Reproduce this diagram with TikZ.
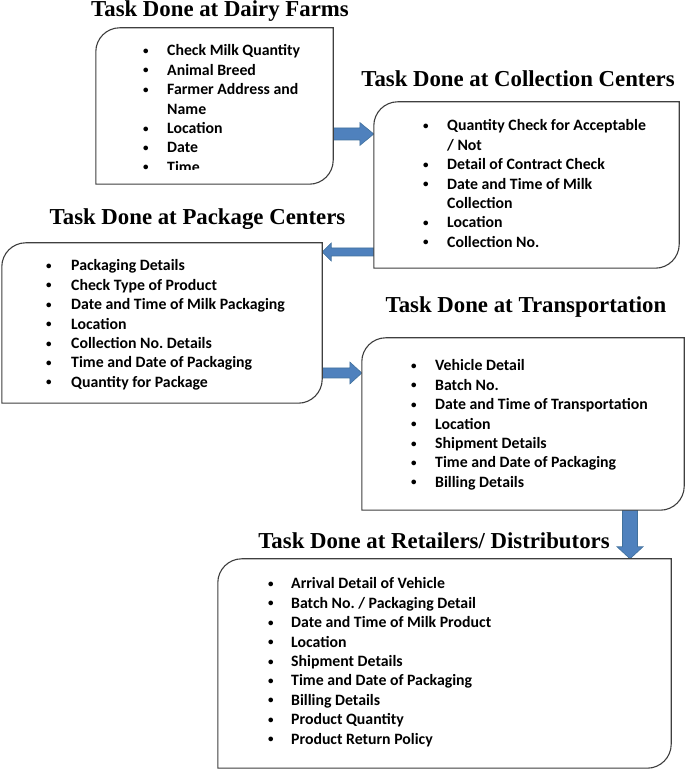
\documentclass[tikz,border=0pt]{standalone}
\usepackage{fontspec}
\setmainfont{Carlito}
\newfontfamily\titlefont{Liberation Serif}
\usetikzlibrary{calc}
\frenchspacing
\definecolor{arrowblue}{HTML}{4F81BD}
\definecolor{arrowedge}{HTML}{41719C}
\definecolor{boxedge}{HTML}{3F3F3F}
\newcommand\tbshape[1]{%
  \draw[boxline] (#1.south west) -- ([yshift=-24pt]#1.north west)
    arc[start angle=180,end angle=90,radius=24pt] -- (#1.north east)
    -- ([yshift=24pt]#1.south east)
    arc[start angle=0,end angle=-90,radius=24pt] -- cycle;}
\newcommand\bu{\hspace*{1pt}\raisebox{1.5pt}{\fontsize{11}{11}\selectfont\textbullet}}
\begin{document}
\frenchspacing
\begin{tikzpicture}[x=1pt,y=1pt,
  boxline/.style={draw=boxedge,line width=1.1pt,fill=white},
  taskbox/.style={draw=none,inner sep=0pt},
  titletext/.style={font=\titlefont\bfseries\fontsize{22.8}{26}\selectfont,inner sep=0pt,anchor=base},
  listtext/.style={font=\bfseries\fontsize{15.8}{19.4}\selectfont\frenchspacing,inner sep=0pt,anchor=base west},
  blockarrow/.style={fill=arrowblue,draw=arrowedge,line width=0.6pt}]
\useasboundingbox (0,0) rectangle (685,770);

% invisible box nodes
\node[taskbox,minimum width=237pt,minimum height=156pt] (dairy) at (214.5,664) {};
\node[taskbox,minimum width=305pt,minimum height=166pt] (coll) at (526.5,585) {};
\node[taskbox,minimum width=320pt,minimum height=160pt] (pack) at (162,447) {};
\node[taskbox,minimum width=322pt,minimum height=172pt] (trans) at (523,346) {};
\node[taskbox,minimum width=453pt,minimum height=209pt] (ret) at (444.5,106.5) {};

\coordinate (ya) at (0,636);
\coordinate (yb) at (0,518);
\coordinate (yc) at (0,397);
\coordinate (xd) at (630,0);

% block arrows
\draw[blockarrow] let \p1=(dairy.east |- ya), \p2=(coll.west |- ya) in
  (\x1,\y1+6) -- (\x2-14,\y1+6) -- (\x2-14,\y1+11.5) -- (\x2,\y1)
  -- (\x2-14,\y1-11.5) -- (\x2-14,\y1-6) -- (\x1,\y1-6) -- cycle;
\draw[blockarrow] let \p1=(coll.west |- yb), \p2=(pack.east |- yb) in
  (\x1,\y1+4) -- (\x2+9,\y1+4) -- (\x2+9,\y1+9) -- (\x2,\y1)
  -- (\x2+9,\y1-9) -- (\x2+9,\y1-4) -- (\x1,\y1-4) -- cycle;
\draw[blockarrow] let \p1=(pack.east |- yc), \p2=(trans.west |- yc) in
  (\x1,\y1+5) -- (\x2-12,\y1+5) -- (\x2-12,\y1+11) -- (\x2,\y1)
  -- (\x2-12,\y1-11) -- (\x2-12,\y1-5) -- (\x1,\y1-5) -- cycle;
\draw[blockarrow] let \p1=(trans.south -| xd), \p2=(ret.north -| xd) in
  (\x1-7.5,\y1) -- (\x1-7.5,\y2+12) -- (\x1-13,\y2+12) -- (\x1,\y2)
  -- (\x1+13,\y2+12) -- (\x1+7.5,\y2+12) -- (\x1+7.5,\y1) -- cycle;

% box outlines
\tbshape{dairy}
\tbshape{coll}
\tbshape{pack}
\tbshape{trans}
\tbshape{ret}

% titles
\node[titletext] (t1) at (220,753.5) {Task Done at Dairy Farms};
\node[titletext] (t2) at (518,683) {Task Done at Collection Centers};
\node[titletext] (t3) at (197.5,545) {Task Done at Package Centers};
\node[titletext] (t4) at (526,457) {Task Done at Transportation};
\node[titletext] (t5) at (434,221) {Task Done at Retailers/ Distributors};

% lists
\begin{scope}
\clip (0,600) rectangle (685,770);
\node[listtext] (l1) at (142,714) {\begin{tabular}[t]{@{}p{25pt}@{}l@{}}
\bu & Check Milk Quantity\\
\bu & Animal Breed\\
\bu & Farmer Address and\\
    & Name\\
\bu & Location\\
\bu & Date\\
\bu & Time
\end{tabular}};
\end{scope}
\node[listtext] (l2) at (422,639) {\begin{tabular}[t]{@{}p{25pt}@{}l@{}}
\bu & Quantity Check for Acceptable\\
    & / Not\\
\bu & Detail of Contract Check\\
\bu & Date and Time of Milk\\
    & Collection\\
\bu & Location\\
\bu & Collection No.
\end{tabular}};
\node[listtext] (l3) at (45,499) {\begin{tabular}[t]{@{}p{26pt}@{}l@{}}
\bu & Packaging Details\\
\bu & Check Type of Product\\
\bu & Date and Time of Milk Packaging\\
\bu & Location\\
\bu & Collection No.\ Details\\
\bu & Time and Date of Packaging\\
\bu & Quantity for Package
\end{tabular}};
\node[listtext] (l4) at (410,399) {\begin{tabular}[t]{@{}p{25pt}@{}l@{}}
\bu & Vehicle Detail\\
\bu & Batch No.\\
\bu & Date and Time of Transportation\\
\bu & Location\\
\bu & Shipment Details\\
\bu & Time and Date of Packaging\\
\bu & Billing Details
\end{tabular}};
\node[listtext] (l5) at (267,181) {\begin{tabular}[t]{@{}p{24pt}@{}l@{}}
\bu & Arrival Detail of Vehicle\\
\bu & Batch No.\ / Packaging Detail\\
\bu & Date and Time of Milk Product\\
\bu & Location\\
\bu & Shipment Details\\
\bu & Time and Date of Packaging\\
\bu & Billing Details\\
\bu & Product Quantity\\
\bu & Product Return Policy
\end{tabular}};
\end{tikzpicture}
\end{document}
